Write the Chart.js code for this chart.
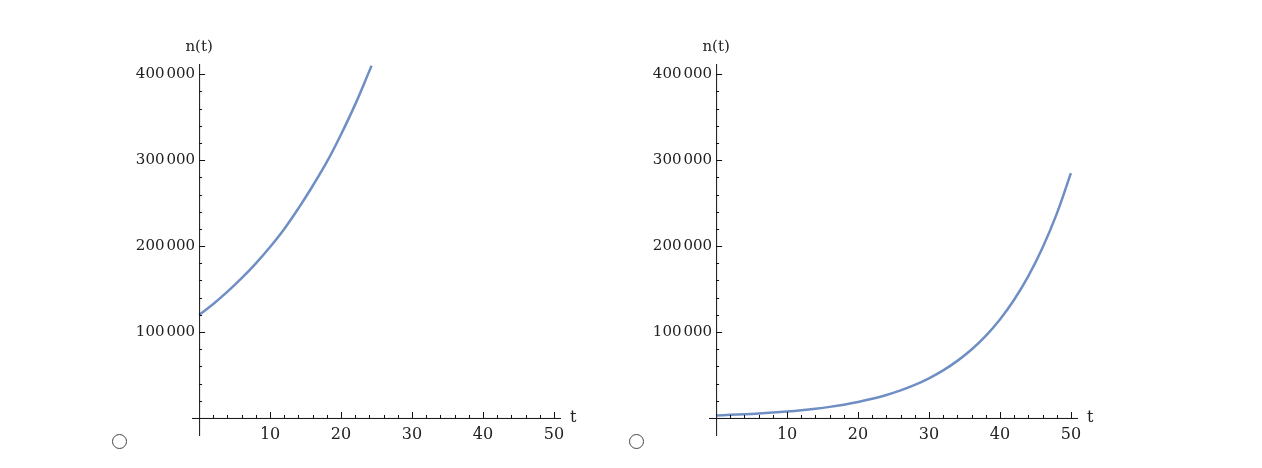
<!DOCTYPE html>
<html lang="en">
  <head>
    <meta charset="UTF-8" />
    <title>n(t)</title>
    <style>
      body { margin: 0; background: #fff; width: 1262px; height: 468px; position: relative; overflow: hidden; }
      canvas { position: absolute; top: 0; }
      .radio { position: absolute; width: 13px; height: 13px; border: 1px solid #444; border-radius: 50%; top: 434px; }
    </style>
  </head>
  <body>
    <canvas id="leftChart" width="520" height="468" style="left:100px;width:520px;height:468px"></canvas>
    <canvas id="rightChart" width="520" height="468" style="left:617px;width:520px;height:468px"></canvas>
    <div class="radio" style="left:112px"></div>
    <div class="radio" style="left:629px"></div>

    <script src="https://cdn.jsdelivr.net/npm/chart.js"></script>
    <script>
      // values
      const leftT = [0, 2, 4, 6, 8, 10, 12, 14, 16, 18, 20, 22, 24, 24.3];
      const leftN = [120000, 132700, 147000, 162700, 180000, 199000, 220000, 244000, 270000, 298000, 330000, 365000, 404000, 410000];
      const rightT = [0, 2, 4, 6, 8, 10, 12, 14, 16, 18, 20, 22, 24, 26, 28, 30, 32, 34, 36, 38, 40, 42, 44, 46, 48, 50];
      const rightN = [3000, 3600, 4330, 5190, 6230, 7470, 8960, 10750, 12900, 15480, 18570, 22280, 26730, 32070, 38480, 46160, 55380, 66440, 79700, 95600, 114700, 137600, 165100, 198100, 237600, 285000];
      const xTicks = [10, 20, 30, 40, 50];
      const yTicks = [100000, 200000, 300000, 400000];
      const yLabels = ["100000", "200000", "300000", "400000"];

      const axesPlugin = {
        id: "mmaAxes",
        afterDraw(chart) {
          const { ctx } = chart;
          const xs = chart.scales.x, ys = chart.scales.y;
          const x0 = xs.getPixelForValue(0), y0 = ys.getPixelForValue(0);
          ctx.save();
          ctx.strokeStyle = "#111";
          ctx.lineWidth = 1;
          ctx.beginPath();
          ctx.moveTo(xs.getPixelForValue(-1), y0 + 0.5);
          ctx.lineTo(xs.getPixelForValue(51), y0 + 0.5);
          ctx.moveTo(x0 + 0.5, ys.getPixelForValue(-21000));
          ctx.lineTo(x0 + 0.5, ys.getPixelForValue(412000));
          for (let t = 2; t <= 50; t += 2) {
            const px = Math.round(xs.getPixelForValue(t)) + 0.5;
            ctx.moveTo(px, y0);
            ctx.lineTo(px, y0 - (t % 10 === 0 ? 6 : 3));
          }
          for (let v = 20000; v <= 400000; v += 20000) {
            const py = Math.round(ys.getPixelForValue(v)) + 0.5;
            ctx.moveTo(x0, py);
            ctx.lineTo(x0 + (v % 100000 === 0 ? 6 : 3), py);
          }
          ctx.stroke();
          ctx.fillStyle = "#222";
          ctx.font = "16px 'DejaVu Serif'";
          ctx.textAlign = "center";
          ctx.textBaseline = "top";
          xTicks.forEach((t) => ctx.fillText(String(t), xs.getPixelForValue(t), y0 + 9));
          ctx.textAlign = "right";
          ctx.textBaseline = "middle";
          ctx.font = "15px 'DejaVu Serif'";
          yTicks.forEach((v, i) => {
            const s = yLabels[i];
            const py = ys.getPixelForValue(v);
            const tail = s.slice(-3), head = s.slice(0, -3);
            ctx.fillText(tail, x0 - 4, py);
            ctx.fillText(head, x0 - 4 - ctx.measureText(tail).width - 2, py);
          });
          ctx.font = "16px 'DejaVu Serif'";
          ctx.textAlign = "left";
          ctx.fillText("t", xs.getPixelForValue(51) + 9, y0);
          ctx.textAlign = "center";
          ctx.font = "15px 'DejaVu Serif'";
          ctx.fillText("n(t)", x0, 47);
          ctx.restore();
        },
      };

      function makeChart(id, ts, ns) {
        return new Chart(document.getElementById(id), {
          type: "line",
          data: {
            datasets: [{
              data: ts.map((t, i) => ({ x: t, y: ns[i] })),
              borderColor: "#6f8fc4",
              borderWidth: 2.5,
              pointRadius: 0,
              tension: 0.4,
              fill: false,
            }],
          },
          options: {
            responsive: false,
            animation: false,
            layout: { padding: { left: 92, right: 59, top: 64, bottom: 32 } },
            plugins: { legend: { display: false }, tooltip: { enabled: false } },
            scales: {
              x: { type: "linear", min: -1, max: 51, display: false },
              y: { type: "linear", min: -21000, max: 412000, display: false },
            },
          },
          plugins: [axesPlugin],
        });
      }

      makeChart("leftChart", leftT, leftN);
      makeChart("rightChart", rightT, rightN);
    </script>
  </body>
</html>
